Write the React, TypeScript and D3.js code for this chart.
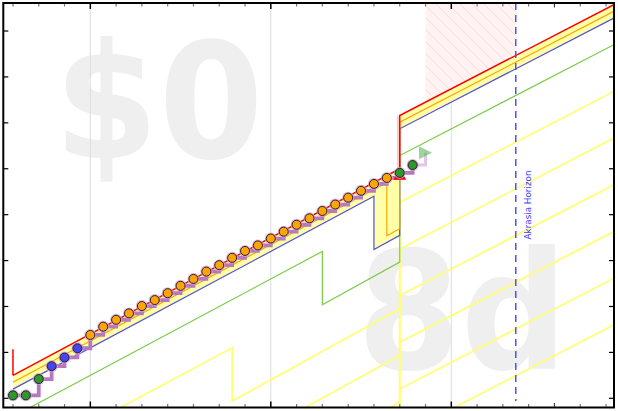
import React, { useRef, useEffect } from 'react';
import * as d3 from 'd3';

// Datapoints, one per day from day 0
const dataValues = [
  0.65, 0.65, 4.2, 7.0, 8.9, 10.9, 13.8, 15.6, 17.1, 18.5, 20.1, 21.4, 22.9, 24.5, 26.0, 27.6,
  29.0, 30.6, 32.1, 33.3, 34.8, 36.3, 37.8, 39.2, 40.8, 42.2, 43.7, 45.2, 46.7, 48.0, 49.1, 50.8
];
const dotColors = [
  'green', 'green', 'green', 'blue', 'blue', 'blue',
  'orange', 'orange', 'orange', 'orange', 'orange', 'orange', 'orange', 'orange',
  'orange', 'orange', 'orange', 'orange', 'orange', 'orange', 'orange', 'orange',
  'orange', 'orange', 'orange', 'orange', 'orange', 'orange', 'orange', 'orange',
  'green', 'green'
];
const projectedDay = 32;
const projectedValue = 53.5;

// Bright red line (road) knots
const roadDays = [0, 30, 30, 100];
const roadValues = [5, 50, 61.6, 163.3];
const roadStartTop = 10.7;
const deadlineDay = 30;

// Isolines, in days of buffer
const isoDays = [1, 2, 6];
const guideDays = [13, 20, 27, 34, 41, 48];

const xTickDays = [0, 2, 4, 6, 8, 10, 12, 14, 16, 18, 20, 22, 24, 26, 28, 30, 32, 34, 36, 38, 40, 42, 44, 46];
const majorTickDays = [6, 20, 34];
const gridDays = [6, 20, 34];
const yTicks = [0, 10, 20, 30, 40, 50, 60, 70, 80];

const pinkStartDay = 32;
const akrasiaDay = 39;

const colors: Record<string, string> = {
  green: '#2a9a2a',
  blue: '#4646ee',
  orange: '#ffa500'
};

const W = 618;
const H = 411;

const roadAt = (t: number) => {
  for (let i = 0; i < roadDays.length - 1; i++) {
    const a = roadDays[i], b = roadDays[i + 1];
    if (b === a) continue;
    if (t >= a && t < b) {
      return roadValues[i] + (roadValues[i + 1] - roadValues[i]) * (t - a) / (b - a);
    }
  }
  return roadValues[roadValues.length - 1];
};

const App: React.FC = () => {
  const ref = useRef<SVGSVGElement>(null);

  useEffect(() => {
    document.body.style.margin = '0';
    if (!ref.current) return;
    const svg = d3.select(ref.current);
    svg.selectAll('*').remove();

    const x = d3.scaleLinear().domain([-0.75, 46.62]).range([3.3, 614]);
    const y = d3.scaleLinear().domain([-2, 86.1]).range([407.5, 3]);
    const [x0, x1] = x.range();
    const [y0, y1] = [y.range()[1], y.range()[0]];
    const maxDay = x.domain()[1] + 0.5;

    const defs = svg.append('defs');
    defs.append('clipPath').attr('id', 'plot')
      .append('rect').attr('x', x0).attr('y', y0).attr('width', x1 - x0).attr('height', y1 - y0);
    const pat = defs.append('pattern').attr('id', 'hatch')
      .attr('patternUnits', 'userSpaceOnUse').attr('width', 12).attr('height', 12);
    pat.append('rect').attr('width', 12).attr('height', 12).attr('fill', '#fff2f2');
    pat.append('path').attr('d', 'M0,0 L12,12 M-6,6 L6,18 M6,-6 L18,6')
      .attr('stroke', '#f6dede').attr('stroke-width', 1);

    svg.append('rect').attr('width', W).attr('height', H).attr('fill', '#fff');

    const g = svg.append('g').attr('clip-path', 'url(#plot)');

    // watermarks
    g.append('text').attr('transform', 'translate(54,158) scale(0.99,1.06)')
      .attr('font-family', 'DejaVu Sans').attr('font-weight', 'bold').attr('font-size', 152)
      .attr('fill', '#efefef').text('$0');
    g.append('text').attr('transform', 'translate(357,369) scale(0.98,1.08)')
      .attr('font-family', 'DejaVu Sans').attr('font-weight', 'bold').attr('font-size', 152)
      .attr('fill', '#efefef').text('8d');

    // grid
    gridDays.forEach(d => {
      g.append('line').attr('x1', x(d)).attr('x2', x(d)).attr('y1', y0).attr('y2', y1)
        .attr('stroke', '#dcdcdc').attr('stroke-width', 1);
    });

    // pink zone up to akrasia horizon
    const pinkPts: [number, number][] = [
      [x(pinkStartDay), y0], [x(akrasiaDay), y0],
      [x(akrasiaDay), y(roadAt(akrasiaDay))], [x(pinkStartDay), y(roadAt(pinkStartDay))]
    ];
    g.append('path').attr('d', 'M' + pinkPts.map(p => p.join(',')).join('L') + 'Z')
      .attr('fill', 'url(#hatch)');

    const eps = 1e-6;
    const jumps = roadDays.filter((d, i) => i > 0 && roadDays[i - 1] === d);
    const iso = (n: number) => {
      const ts = [0, maxDay];
      jumps.forEach(j => {
        [j - n, j].forEach(b => { if (b > 0 && b < maxDay) ts.push(b - eps, b); });
      });
      ts.sort((a, b) => a - b);
      return ts.map(t => [t, 2 * roadAt(t) - roadAt(t + n)] as [number, number]);
    };
    const line = d3.line<[number, number]>().x(d => x(d[0])).y(d => y(d[1]));

    const roadPts: [number, number][] = roadDays.map((d, i) => [d, roadValues[i]]);
    const bluePts = iso(isoDays[1]);

    // yellow lane fill between red and blue
    g.append('path')
      .attr('d', 'M' + roadPts.concat(bluePts.slice().reverse()).map(p => `${x(p[0])},${y(p[1])}`).join('L') + 'Z')
      .attr('fill', '#ffffa8');

    guideDays.forEach(n => {
      g.append('path').attr('d', line(iso(n))).attr('fill', 'none')
        .attr('stroke', '#ffff70').attr('stroke-width', 1.7);
    });
    g.append('path').attr('d', line(iso(isoDays[2]))).attr('fill', 'none')
      .attr('stroke', '#7ccc48').attr('stroke-width', 1.2);
    g.append('path').attr('d', line(bluePts)).attr('fill', 'none')
      .attr('stroke', '#5050dd').attr('stroke-width', 1.2);
    g.append('path').attr('d', line(iso(isoDays[0]))).attr('fill', 'none')
      .attr('stroke', '#ffa500').attr('stroke-width', 1.2);
    g.append('line').attr('x1', x(deadlineDay) - 1.8).attr('x2', x(deadlineDay) - 1.8)
      .attr('y1', y(roadValues[2])).attr('y2', y(roadValues[1]))
      .attr('stroke', '#ffc8c8').attr('stroke-width', 2);
    g.append('path').attr('d', line(roadPts)).attr('fill', 'none')
      .attr('stroke', '#ff0000').attr('stroke-width', 1.5);
    g.append('line').attr('x1', x(0)).attr('x2', x(0))
      .attr('y1', y(roadValues[0])).attr('y2', y(roadStartTop))
      .attr('stroke', '#ff0000').attr('stroke-width', 1.5);

    // akrasia horizon
    g.append('line').attr('x1', x(akrasiaDay)).attr('x2', x(akrasiaDay)).attr('y1', y0).attr('y2', 401)
      .attr('stroke', '#5050ff').attr('stroke-width', 1.5).attr('stroke-dasharray', '7,5');
    g.append('text').attr('transform', `translate(${x(akrasiaDay) + 15},205) rotate(-90)`)
      .attr('text-anchor', 'middle').attr('font-family', 'DejaVu Sans').attr('font-size', 8.8)
      .attr('fill', '#3a3aff').text('Akrasia Horizon');

    // steppy line
    const pts: [number, number][] = dataValues.map((v, i) => [i, v]);
    const step = d3.line<[number, number]>().x(d => x(d[0])).y(d => y(d[1])).curve(d3.curveStepAfter);
    g.append('path').attr('d', step([pts[pts.length - 1], [projectedDay, projectedValue]]))
      .attr('fill', 'none').attr('stroke', '#e2c6ea').attr('stroke-width', 3);
    g.append('path').attr('d', step(pts)).attr('fill', 'none')
      .attr('stroke', '#b878c0').attr('stroke-width', 3.8);

    // projected point
    const px = x(projectedDay), py = y(projectedValue);
    g.append('path').attr('d', `M${px - 6.5},${py - 6.5}L${px + 6.5},${py}L${px - 6.5},${py + 6.5}Z`)
      .attr('fill', '#5cb85c').attr('opacity', 0.6);

    // deadline marker
    const dx = x(deadlineDay), dy = y(roadValues[1]);
    g.append('path').attr('d', `M${dx - 6.5},${dy + 11}L${dx + 6.5},${dy + 11}L${dx},${dy}Z`)
      .attr('fill', '#ff0000');

    // dots
    pts.forEach((p, i) => {
      g.append('circle').attr('cx', x(p[0])).attr('cy', y(p[1])).attr('r', 6)
        .attr('fill', '#cfa3d6').attr('opacity', 0.8);
      g.append('circle').attr('cx', x(p[0])).attr('cy', y(p[1])).attr('r', 4.5)
        .attr('fill', colors[dotColors[i]]).attr('stroke', '#2e1d2e').attr('stroke-width', 1);
    });

    // frame and ticks
    const axes = svg.append('g');
    xTickDays.forEach(d => {
      const major = majorTickDays.includes(d);
      const len = major ? 6 : d === 42 ? 4.5 : 3.5;
      const col = major ? '#000' : d === 42 ? '#444' : '#777';
      const sw = major ? 1.5 : 1.2;
      axes.append('line').attr('x1', x(d)).attr('x2', x(d)).attr('y1', y0).attr('y2', y0 + len)
        .attr('stroke', col).attr('stroke-width', sw);
      axes.append('line').attr('x1', x(d)).attr('x2', x(d)).attr('y1', y1).attr('y2', y1 - len)
        .attr('stroke', col).attr('stroke-width', sw);
    });
    yTicks.forEach(v => {
      axes.append('line').attr('x1', x0).attr('x2', x0 + 5).attr('y1', y(v)).attr('y2', y(v))
        .attr('stroke', '#000').attr('stroke-width', 1.2);
      axes.append('line').attr('x1', x1).attr('x2', x1 - 5).attr('y1', y(v)).attr('y2', y(v))
        .attr('stroke', '#000').attr('stroke-width', 1.2);
    });
    axes.append('rect').attr('x', x0).attr('y', y0).attr('width', x1 - x0).attr('height', y1 - y0)
      .attr('fill', 'none').attr('stroke', '#000').attr('stroke-width', 2);
  }, []);

  return <svg ref={ref} width={W} height={H} style={{ display: 'block' }} />;
};

export default App;
